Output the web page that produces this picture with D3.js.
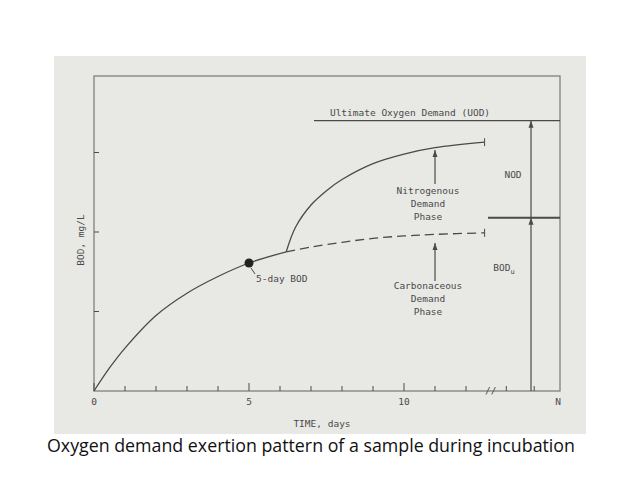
<!DOCTYPE html><html><head><meta charset="utf-8">
<script src="https://cdn.jsdelivr.net/npm/d3@7"></script>
<style>body{margin:0;background:#fff}</style></head><body>
<svg id="c" width="638" height="478"></svg>
<script>
const carbSolidT=[0,0.5,1,2,3,4,5,6.2];
const carbSolidV=[0,0.29,0.54,0.95,1.23,1.44,1.61,1.75];
const carbDashT=[6.2,7,8,9,10,11,12.6];
const carbDashV=[1.75,1.81,1.87,1.92,1.95,1.97,1.99];
const nitT=[6.2,6.5,7,7.5,8,9,10,11,12.6];
const nitV=[1.75,2.06,2.34,2.52,2.66,2.86,2.98,3.06,3.13];
const xTickDays=[0,1,2,3,4,5,6,7,8,9,10,11,12];
const xLabels=[{t:0,s:"0"},{t:5,s:"5"},{t:10,s:"10"}];
const yTicks=[1,2,3];
const fontMono="'DejaVu Sans Mono', monospace";
const ink="#4a4a4a";

const svg=d3.select("#c");
svg.append("rect").attr("x",54).attr("y",56).attr("width",532).attr("height",378).attr("fill","#e8e8e5");
const x=d3.scaleLinear().domain([0,10]).range([94,404]);
const y=d3.scaleLinear().domain([0,1]).range([391,311.5]);
svg.append("rect").attr("x",94).attr("y",76).attr("width",466).attr("height",315).attr("fill","none").attr("stroke","#777").attr("stroke-width",1.2);
const g=svg.append("g").attr("stroke",ink).attr("stroke-width",1);
xTickDays.forEach(t=>g.append("line").attr("x1",x(t)).attr("x2",x(t)).attr("y1",391).attr("y2",t%5===0?383:386));
g.append("line").attr("x1",x(13.3)).attr("x2",x(13.3)).attr("y1",391).attr("y2",386);
g.append("line").attr("x1",x(14.2)).attr("x2",x(14.2)).attr("y1",391).attr("y2",386);
yTicks.forEach(v=>g.append("line").attr("x1",94).attr("x2",99).attr("y1",y(v)).attr("y2",y(v)));
const tf=(sel)=>sel.attr("font-family",fontMono).attr("font-size",9.5).attr("fill",ink);
tf(svg.append("text")).attr("x",x(12.8)).attr("y",394).attr("text-anchor","middle").text("//");
xLabels.forEach(d=>tf(svg.append("text")).attr("x",x(d.t)).attr("y",405).attr("text-anchor","middle").text(d.s));
tf(svg.append("text")).attr("x",558).attr("y",405).attr("text-anchor","middle").text("N");
tf(svg.append("text")).attr("x",322).attr("y",427).attr("text-anchor","middle").text("TIME, days");
tf(svg.append("text")).attr("transform","translate(84,240) rotate(-90)").attr("text-anchor","middle").text("BOD, mg/L");
const line=d3.line().x(d=>x(d[0])).y(d=>y(d[1])).curve(d3.curveCatmullRom.alpha(0.5));
const zip=(a,b)=>a.map((t,i)=>[t,b[i]]);
svg.append("path").attr("d",line(zip(carbSolidT,carbSolidV))).attr("fill","none").attr("stroke",ink).attr("stroke-width",1.3);
svg.append("path").attr("d",line(zip(carbDashT,carbDashV))).attr("fill","none").attr("stroke",ink).attr("stroke-width",1.3).attr("stroke-dasharray","9,5");
svg.append("path").attr("d",line(zip(nitT,nitV))).attr("fill","none").attr("stroke",ink).attr("stroke-width",1.3);
[[12.6,1.99],[12.6,3.13]].forEach(p=>svg.append("line").attr("x1",x(p[0])).attr("x2",x(p[0])).attr("y1",y(p[1])-4).attr("y2",y(p[1])+4).attr("stroke",ink));
svg.append("circle").attr("cx",x(5)).attr("cy",y(1.61)).attr("r",4.5).attr("fill","#222");
tf(svg.append("text")).attr("x",256).attr("y",282).text("5-day BOD");
svg.append("line").attr("x1",255).attr("y1",274).attr("x2",251).attr("y2",268).attr("stroke",ink);
function arrow(x0,y0,y1){
  svg.append("line").attr("x1",x0).attr("x2",x0).attr("y1",y0).attr("y2",y1).attr("stroke",ink).attr("stroke-width",1.2);
  svg.append("path").attr("d",`M${x0},${y1} l-2.5,7 l5,0 z`).attr("fill",ink);
}
arrow(x(11),184,150); arrow(x(11),281,243);
["Nitrogenous","Demand","Phase"].forEach((s,i)=>tf(svg.append("text")).attr("x",428).attr("y",194+i*13).attr("text-anchor","middle").text(s));
["Carbonaceous","Demand","Phase"].forEach((s,i)=>tf(svg.append("text")).attr("x",428).attr("y",289+i*13).attr("text-anchor","middle").text(s));
svg.append("line").attr("x1",314).attr("x2",560).attr("y1",y(3.4)).attr("y2",y(3.4)).attr("stroke",ink).attr("stroke-width",1.2);
tf(svg.append("text")).attr("x",410).attr("y",y(3.4)-5).attr("text-anchor","middle").text("Ultimate Oxygen Demand (UOD)");
arrow(531,391,y(3.4));
svg.append("line").attr("x1",488).attr("x2",560).attr("y1",y(2.18)).attr("y2",y(2.18)).attr("stroke",ink).attr("stroke-width",2);
svg.append("path").attr("d",`M531,${y(2.18)} l-2.5,7 l5,0 z`).attr("fill",ink);
tf(svg.append("text")).attr("x",513).attr("y",178).attr("text-anchor","middle").text("NOD");
const b=tf(svg.append("text")).attr("x",504).attr("y",271).attr("text-anchor","middle");
b.append("tspan").text("BOD");b.append("tspan").attr("font-size",7).attr("dy",3).text("u");
svg.append("text").attr("x",311).attr("y",452).attr("text-anchor","middle").attr("font-family","'Open Sans', sans-serif").attr("font-size",17.8).attr("fill","#111").text("Oxygen demand exertion pattern of a sample during incubation");
</script></body></html>
